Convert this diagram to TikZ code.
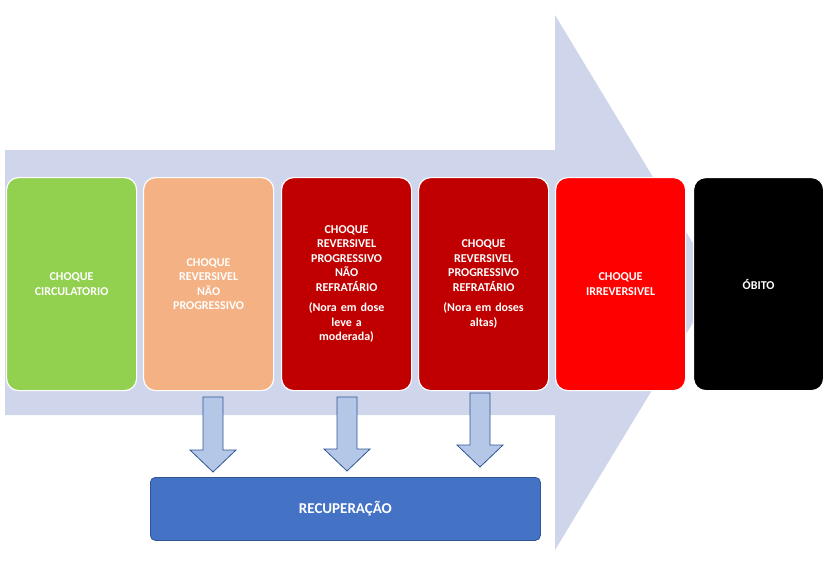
\documentclass[tikz,border=0pt]{standalone}
\usepackage{fontspec}
\setmainfont{Carlito}
\begin{document}
\begin{tikzpicture}[x=1pt,y=-1pt,
  box/.style={draw=white,line width=1.2pt,rounded corners=12pt,minimum width=130pt,minimum height=213pt,anchor=north west,text=white,font=\bfseries\fontsize{12}{14.5}\selectfont,align=center,text width=118pt},
  darr/.style={fill=arrowblue,draw=arrowborder,line width=0.8pt}]
\definecolor{bigarrow}{HTML}{CFD5EA}
\definecolor{arrowblue}{HTML}{B4C7E7}
\definecolor{arrowborder}{HTML}{2F5597}
\definecolor{recup}{HTML}{4472C4}
\useasboundingbox (0,0) rectangle (831,570);
\fill[bigarrow] (5,150) -- (555,150) -- (555,15) -- (717,283) -- (555,550) -- (555,415) -- (5,415) -- cycle;
\node[box,fill={rgb,255:red,146;green,208;blue,80}] (b1) at (6,177) {CHOQUE\\CIRCULATORIO};
\node[box,fill={rgb,255:red,244;green,177;blue,131}] (b2) at (143,177) {CHOQUE\\REVERSIVEL\\NÃO\\PROGRESSIVO};
\node[box,fill={rgb,255:red,192;green,0;blue,0}] (b3) at (281,177) {CHOQUE\\REVERSIVEL\\PROGRESSIVO\\NÃO\\REFRATÁRIO\\[6pt](Nora em dose\\leve a\\moderada)};
\node[box,fill={rgb,255:red,192;green,0;blue,0}] (b4) at (418,177) {CHOQUE\\REVERSIVEL\\PROGRESSIVO\\REFRATÁRIO\\[6pt](Nora em doses\\altas)};
\node[box,fill={rgb,255:red,255;green,0;blue,0}] (b5) at (555,177) {CHOQUE\\IRREVERSIVEL};
\node[box,fill=black] (b6) at (693,177) {ÓBITO\\[20pt]};
\node[draw=arrowborder,line width=0.8pt,fill=recup,rounded corners=5pt,minimum width=390pt,minimum height=63pt,anchor=north west,text=white,font=\bfseries\fontsize{15}{18}\selectfont] (rec) at (150,477) {RECUPERAÇÃO};
\foreach \cx/\ty/\by in {213/397/472, 347/397/471, 480/393/467}{
  \draw[darr] (\cx-10,\ty) -- (\cx+10,\ty) -- (\cx+10,\by-22) -- (\cx+23,\by-22) -- (\cx,\by) -- (\cx-23,\by-22) -- (\cx-10,\by-22) -- cycle;
}
\end{tikzpicture}
\end{document}
